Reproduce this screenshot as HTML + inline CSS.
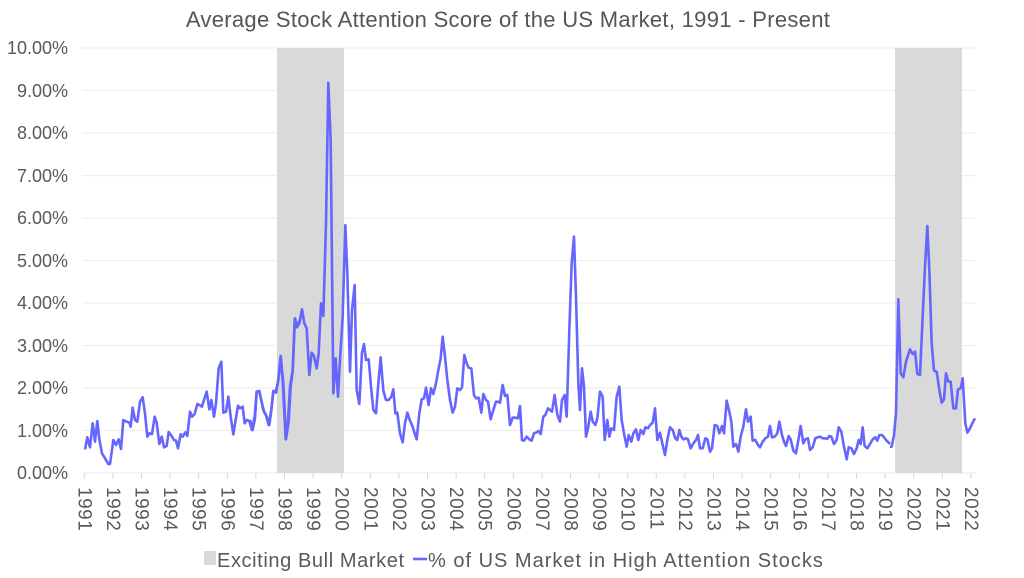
<!DOCTYPE html>
<html><head><meta charset="utf-8"><style>
html,body{margin:0;padding:0;background:#fff;}
svg{display:block;font-family:"Liberation Sans",sans-serif;}
</style></head><body>
<svg width="1024" height="578" viewBox="0 0 1024 578" xmlns="http://www.w3.org/2000/svg">
<rect width="1024" height="578" fill="#fff"/>
<text x="508" y="27" text-anchor="middle" font-size="22" letter-spacing="0.3" fill="#555">Average Stock Attention Score of the US Market, 1991 - Present</text>
<g stroke="#efefef" stroke-width="1.2">
<line x1="82" x2="976" y1="48" y2="48"/><line x1="82" x2="976" y1="90.5" y2="90.5"/><line x1="82" x2="976" y1="133" y2="133"/><line x1="82" x2="976" y1="175.5" y2="175.5"/><line x1="82" x2="976" y1="218" y2="218"/><line x1="82" x2="976" y1="260.5" y2="260.5"/><line x1="82" x2="976" y1="303" y2="303"/><line x1="82" x2="976" y1="345.5" y2="345.5"/><line x1="82" x2="976" y1="388" y2="388"/><line x1="82" x2="976" y1="430.5" y2="430.5"/><line x1="82" x2="976" y1="473" y2="473"/>
</g>
<rect x="277" y="48" width="67" height="425" fill="#d9d9d9"/>
<rect x="895" y="48" width="67" height="425" fill="#d9d9d9"/>
<g font-size="18" fill="#595959" text-anchor="end">
<text x="68" y="54">10.00%</text><text x="68" y="97">9.00%</text><text x="68" y="139">8.00%</text><text x="68" y="182">7.00%</text><text x="68" y="224">6.00%</text><text x="68" y="267">5.00%</text><text x="68" y="309">4.00%</text><text x="68" y="352">3.00%</text><text x="68" y="394">2.00%</text><text x="68" y="437">1.00%</text><text x="68" y="479">0.00%</text>
</g>
<g fill="none" stroke="#6666ff" stroke-width="2.6" stroke-linejoin="round">
<polyline vector-effect="non-scaling-stroke" transform="translate(80,240) scale(0.33333)" points="15,628 22,592 30,622 38,550 45,605 52,543 58,598 66,640 75,655 85,672 90,672 100,600 108,615 116,598 123,627 130,540 140,545 148,548 152,560 158,503 165,540 172,545 180,485 188,472 195,520 202,590 208,580 216,582 224,530 230,548 238,612 245,590 252,622 260,618 266,576 275,588 282,600 288,602 294,625 302,583 308,590 316,577 322,588 330,515 336,530 344,522 352,492 360,496 366,500 372,480 380,455 388,508 394,480 402,530 408,490 416,385 424,365 430,518 438,515 445,470 452,530 460,583 466,545 474,497 480,505 488,500 494,550 500,540 508,543 516,570 524,530 530,455 538,455 546,490 552,515 560,530 568,555 574,510 580,453 588,458 595,420 602,348 610,430 618,598 626,545 632,440 638,395 644,238 650,262 660,240"/>
<polyline vector-effect="non-scaling-stroke" transform="translate(250,30) scale(0.33333)" points="0,1170 8,1200 15,1165 20,1085 28,1083 40,1140 48,1155 56,1185 64,1140 70,1083 78,1083 85,1050 92,978 98,1050 107,1228 114,1175 120,1070 128,1020 135,865 142,890 148,880 156,838 163,880 170,895 178,1035 185,968 192,978 200,1015 206,970 213,820 220,858 228,580 235,158 242,330 250,1090 257,985 264,1100 270,990 278,860 286,585 292,730 300,1025 306,840 314,765 320,1080 328,1122 336,968 342,942 348,990 356,988 364,1080 370,1140 378,1150 385,1060 392,982 400,1082 408,1110 416,1110 424,1100 430,1078 436,1150 442,1148 450,1210 458,1237 465,1180 472,1148 480,1172 488,1190 494,1210 500,1228 508,1150 515,1108 522,1105 528,1073 536,1125 543,1075 550,1092 558,1060 565,1020 572,985 578,920 585,980 592,1050 600,1110 608,1148 615,1130 622,1075 630,1080 636,1072 643,975 650,1000 656,1013 664,1015 672,1095 678,1105 686,1103 694,1148 700,1092 708,1110 714,1115 722,1168 730,1140 738,1115 744,1115 750,1118 758,1065 765,1098 772,1095 780,1185 788,1163 796,1163 804,1165 810,1128 816,1230 822,1232 830,1220 838,1228 845,1232 852,1210 860,1207 866,1203 872,1212 880,1160 886,1155 894,1135 900,1140 906,1145 914,1095 922,1155 930,1175 936,1110 944,1095 950,1160 958,900 965,700 972,620 978,800 985,1060 990,1140 996,1015 1002,1070 1008,1220 1014,1195 1022,1145 1028,1175 1036,1185 1042,1165 1050,1085 1058,1100 1064,1230 1072,1170 1078,1220 1084,1195 1092,1200 1100,1100 1108,1070 1115,1170 1122,1210 1130,1250 1136,1215 1144,1235 1150,1210 1158,1198 1165,1230 1172,1200 1180,1212 1186,1192 1194,1195 1200,1185"/>
<polyline vector-effect="non-scaling-stroke" transform="translate(600,320) scale(0.33333)" points="150,315 158,308 165,265 172,360 180,338 188,375 195,405 202,360 210,322 218,330 226,355 232,360 238,330 244,350 250,358 258,355 264,358 272,385 280,370 288,360 294,345 300,385 308,385 316,355 322,358 330,395 336,385 344,315 352,318 358,340 366,318 372,340 380,242 388,275 394,305 400,380 408,372 415,395 422,350 430,320 438,268 444,305 452,290 458,362 466,360 474,375 480,382 488,365 496,355 504,350 510,318 516,352 524,350 532,340 538,305 546,345 552,365 558,378 566,348 572,358 580,392 588,400 596,355 602,318 610,370 616,358 624,355 630,390 638,382 646,355 652,352 660,350 668,355 674,355 682,356 688,348 694,350 702,372 710,360 716,322 724,335 732,380 740,418 746,382 754,385 762,402 770,385 776,360 782,372 788,322 794,378 802,385 810,372 818,358 826,352 832,362 838,345 846,345 852,352 860,362 870,372"/>
<polyline vector-effect="non-scaling-stroke" transform="translate(860,200) scale(0.33333)" points="90,740 95,740 102,705 108,640 115,298 122,520 130,532 138,485 150,448 158,462 165,455 172,522 180,525 188,350 195,200 202,78 208,210 215,430 222,512 230,515 238,570 245,608 252,598 258,520 265,545 272,545 280,625 288,625 294,568 302,565 308,535 316,670 322,698 330,685 338,668 345,655"/>
</g>
<g stroke="#d9d9d9" stroke-width="1">
<line x1="84.3" x2="84.3" y1="473" y2="479"/><line x1="112.9" x2="112.9" y1="473" y2="479"/><line x1="141.5" x2="141.5" y1="473" y2="479"/><line x1="170.1" x2="170.1" y1="473" y2="479"/><line x1="198.7" x2="198.7" y1="473" y2="479"/><line x1="227.3" x2="227.3" y1="473" y2="479"/><line x1="255.9" x2="255.9" y1="473" y2="479"/><line x1="284.5" x2="284.5" y1="473" y2="479"/><line x1="313.1" x2="313.1" y1="473" y2="479"/><line x1="341.7" x2="341.7" y1="473" y2="479"/><line x1="370.3" x2="370.3" y1="473" y2="479"/><line x1="398.9" x2="398.9" y1="473" y2="479"/><line x1="427.5" x2="427.5" y1="473" y2="479"/><line x1="456.1" x2="456.1" y1="473" y2="479"/><line x1="484.7" x2="484.7" y1="473" y2="479"/><line x1="513.3" x2="513.3" y1="473" y2="479"/><line x1="541.9" x2="541.9" y1="473" y2="479"/><line x1="570.5" x2="570.5" y1="473" y2="479"/><line x1="599.1" x2="599.1" y1="473" y2="479"/><line x1="627.7" x2="627.7" y1="473" y2="479"/><line x1="656.3" x2="656.3" y1="473" y2="479"/><line x1="684.9" x2="684.9" y1="473" y2="479"/><line x1="713.5" x2="713.5" y1="473" y2="479"/><line x1="742.1" x2="742.1" y1="473" y2="479"/><line x1="770.7" x2="770.7" y1="473" y2="479"/><line x1="799.3" x2="799.3" y1="473" y2="479"/><line x1="827.9" x2="827.9" y1="473" y2="479"/><line x1="856.5" x2="856.5" y1="473" y2="479"/><line x1="885.1" x2="885.1" y1="473" y2="479"/><line x1="913.7" x2="913.7" y1="473" y2="479"/><line x1="942.3" x2="942.3" y1="473" y2="479"/><line x1="970.9" x2="970.9" y1="473" y2="479"/>
</g>
<g font-size="19" fill="#595959" letter-spacing="0.5">
<text transform="translate(78.3,487) rotate(90)">1991</text>
<text transform="translate(106.9,487) rotate(90)">1992</text>
<text transform="translate(135.5,487) rotate(90)">1993</text>
<text transform="translate(164.1,487) rotate(90)">1994</text>
<text transform="translate(192.7,487) rotate(90)">1995</text>
<text transform="translate(221.3,487) rotate(90)">1996</text>
<text transform="translate(249.9,487) rotate(90)">1997</text>
<text transform="translate(278.5,487) rotate(90)">1998</text>
<text transform="translate(307.1,487) rotate(90)">1999</text>
<text transform="translate(335.7,487) rotate(90)">2000</text>
<text transform="translate(364.3,487) rotate(90)">2001</text>
<text transform="translate(392.9,487) rotate(90)">2002</text>
<text transform="translate(421.5,487) rotate(90)">2003</text>
<text transform="translate(450.1,487) rotate(90)">2004</text>
<text transform="translate(478.7,487) rotate(90)">2005</text>
<text transform="translate(507.3,487) rotate(90)">2006</text>
<text transform="translate(535.9,487) rotate(90)">2007</text>
<text transform="translate(564.5,487) rotate(90)">2008</text>
<text transform="translate(593.1,487) rotate(90)">2009</text>
<text transform="translate(621.7,487) rotate(90)">2010</text>
<text transform="translate(650.3,487) rotate(90)">2011</text>
<text transform="translate(678.9,487) rotate(90)">2012</text>
<text transform="translate(707.5,487) rotate(90)">2013</text>
<text transform="translate(736.1,487) rotate(90)">2014</text>
<text transform="translate(764.7,487) rotate(90)">2015</text>
<text transform="translate(793.3,487) rotate(90)">2016</text>
<text transform="translate(821.9,487) rotate(90)">2017</text>
<text transform="translate(850.5,487) rotate(90)">2018</text>
<text transform="translate(879.1,487) rotate(90)">2019</text>
<text transform="translate(907.7,487) rotate(90)">2020</text>
<text transform="translate(936.3,487) rotate(90)">2021</text>
<text transform="translate(964.9,487) rotate(90)">2022</text>
</g>
<rect x="204" y="551" width="12" height="14" fill="#d9d9d9"/>
<text x="217" y="567" font-size="20" letter-spacing="0.6" fill="#595959">Exciting Bull Market</text>
<line x1="413" x2="427" y1="559" y2="559" stroke="#6666ff" stroke-width="2.6"/>
<text x="428" y="567" font-size="20" letter-spacing="1" fill="#595959">% of US Market in High Attention Stocks</text>
</svg>
</body></html>
